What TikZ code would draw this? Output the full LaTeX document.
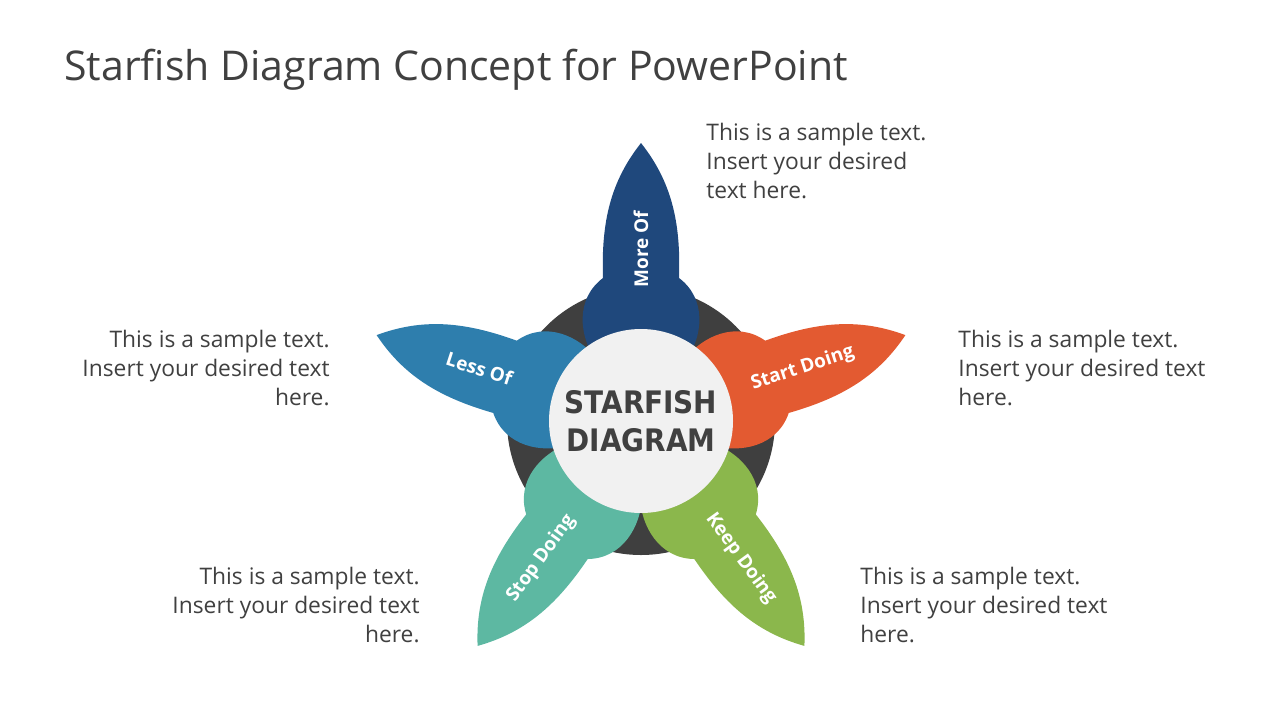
\documentclass[tikz,border=0pt]{standalone}
\usepackage{fontspec}
\usetikzlibrary{calc}
\setmainfont{Open Sans}
\newfontfamily\condfont{DejaVu Sans Condensed}
\definecolor{dk}{HTML}{404040}
\definecolor{cblue}{HTML}{1F487C}
\definecolor{clblue}{HTML}{2E7EAD}
\definecolor{corange}{HTML}{E35A31}
\definecolor{cgreen}{HTML}{8BB74C}
\definecolor{cteal}{HTML}{5DB8A2}
\definecolor{cring}{HTML}{3F3F3F}
\definecolor{ccirc}{HTML}{F1F1F1}
\tikzset{
 body/.style={font=\fontsize{11.4}{14.5}\selectfont, text=dk, inner sep=0pt},
 plabel/.style={font=\bfseries\fontsize{9.5}{11}\selectfont, text=white, inner sep=0pt},
}
\newcommand{\petal}[2]{%
 \fill[#2, rotate around={#1:(641,299)}, shift={(641,299)}]
 (-45,60) .. controls (-62,85) and (-66,122) .. (-38,143)
 .. controls (-40,200) and (-30,240) .. (0,278)
 .. controls (30,240) and (40,200) .. (38,143)
 .. controls (66,122) and (62,85) .. (45,60) -- cycle;}
\begin{document}
\begin{tikzpicture}[x=0.5pt,y=0.5pt]
\useasboundingbox (0,0) rectangle (1280,720);
\node[anchor=base west, inner sep=0pt, font=\fontsize{20.5}{25}\selectfont, text=dk] (title) at (64,640) {Starfish Diagram Concept for PowerPoint};
\fill[cring] (641,299) circle (134);
\petal{72}{clblue}
\petal{144}{cteal}
\petal{-144}{cgreen}
\petal{-72}{corange}
\petal{0}{cblue}
\node[circle, fill=ccirc, minimum size=92pt, inner sep=0pt, align=center, font=\condfont\bfseries\fontsize{15.5}{19}\selectfont, text=dk] (c) at (641,299) {STARFISH\\DIAGRAM};
\node[plabel, rotate=90] (l1) at ($(641,299)+(90:172)$) {More Of};
\node[plabel, rotate=18] (l2) at ($(641,299)+(18:170)$) {Start Doing};
\node[plabel, rotate=-54] (l3) at ($(641,299)+(-54:170)$) {Keep Doing};
\node[plabel, rotate=54] (l4) at ($(641,299)+(-126:170)$) {Stop Doing};
\node[plabel, rotate=-18] (l5) at ($(641,299)+(162:170)$) {Less Of};
\node[body, anchor=north west, align=left] (t1) at (706,597) {This is a sample text.\\Insert your desired\\text here.};
\node[body, anchor=north west, align=left] (t2) at (958,390) {This is a sample text.\\Insert your desired text\\here.};
\node[body, anchor=north east, align=right] (t3) at (330,390) {This is a sample text.\\Insert your desired text\\here.};
\node[body, anchor=north east, align=right] (t4) at (420,153) {This is a sample text.\\Insert your desired text\\here.};
\node[body, anchor=north west, align=left] (t5) at (860,153) {This is a sample text.\\Insert your desired text\\here.};
\end{tikzpicture}
\end{document}
